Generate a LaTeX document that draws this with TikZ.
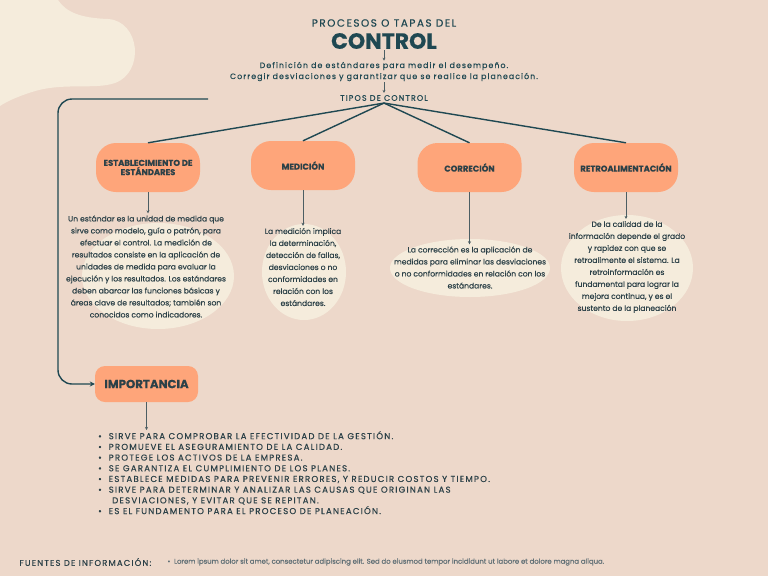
\documentclass[tikz,border=0pt]{standalone}
\usepackage{fontspec}
\setmainfont{Poppins}[FakeBold=0.5]
\newfontfamily\medio[FakeBold=0.35]{Poppins}
\newfontfamily\spaced[LetterSpace=14,FakeBold=0.35]{Poppins}
\usetikzlibrary{arrows.meta}

\definecolor{fondo}{HTML}{EDD8CA}
\definecolor{crema}{HTML}{F5ECDC}
\definecolor{durazno}{HTML}{FEA57A}
\definecolor{petroleo}{HTML}{1F4852}
\definecolor{tinta}{HTML}{2C4148}

\tikzset{
  tipo/.style={fill=durazno, rounded corners=20pt, minimum width=104pt, minimum height=49pt,
    font=\fontsize{8.4}{8.2}\selectfont\bfseries, text=tinta, align=center},
  desc/.style={font=\medio\fontsize{7.6}{12}\selectfont, text=tinta, align=center, inner sep=2pt},
  rama/.style={petroleo, line width=1.4pt},
  baja/.style={draw=tinta!85, line width=0.6pt, -{Stealth[length=3pt,width=3pt]}},
}

\begin{document}
\begin{tikzpicture}[x=1pt,y=-1pt]
\useasboundingbox (0,0) rectangle (768,576);
\fill[fondo] (0,0) rectangle (768,576);
% mancha de la esquina
\fill[crema] (0,0) -- (58,0) .. controls (66,12) and (80,18) .. (108,19)
  .. controls (140,21) and (145,72) .. (115,83)
  .. controls (95,90) and (62,82) .. (32,92)
  .. controls (16,97) and (6,102) .. (0,106) -- cycle;

% titulo
\node[font=\spaced\fontsize{10.5}{12}\selectfont, text=petroleo] (sup) at (384,23) {PROCESOS O TAPAS DEL};
\node[font=\fontsize{22}{24}\selectfont\bfseries, text=petroleo, inner sep=1pt] (ctl) at (384,41) {CONTROL};
\node[font=\spaced\fontsize{7.8}{11}\selectfont, text=petroleo, align=center, inner sep=1pt] (def) at (384,71.5)
  {Definición de estándares para medir el desempeño.\\Corregir desviaciones y garantizar que se realice la planeación.};
\node[font=\spaced\fontsize{8}{9}\selectfont, text=petroleo, inner sep=2pt] (tipos) at (384,98) {TIPOS DE CONTROL};
\draw[baja] (ctl.south) -- (def.north);
\draw[baja] (def.south) -- (tipos.north);

% tipos de control
\node[tipo] (est) at (148,167.5) {ESTABLECIMIENTO DE\\ESTÁNDARES};
\node[tipo] (med) at (303,165.5) {MEDICIÓN};
\node[tipo] (cor) at (469.5,167.5) {CORRECIÓN};
\node[tipo] (ret) at (626,167.5) {RETROALIMENTACIÓN};
\foreach \n in {est,med,cor,ret}{\draw[rama] (tipos.south) -- (\n.north);}

% manchas claras
\fill[crema] (158,276) ellipse [x radius=76, y radius=53];
\fill[crema] (304,272) ellipse [x radius=42, y radius=48];
\fill[crema] (470,268) ellipse [x radius=80, y radius=29];
\fill[crema] (627,268) ellipse [x radius=66, y radius=53];

\node[desc] (d1) at (146,266.5) {Un estándar es la unidad de medida que\\sirve como modelo, guía o patrón, para\\efectuar el control. La medición de\\resultados consiste en la aplicación de\\unidades de medida para evaluar la\\ejecución y los resultados. Los estándares\\deben abarcar las funciones básicas y\\áreas clave de resultados; también son\\conocidos como indicadores.};
\node[desc] (d2) at (303,267) {La medición implica\\la determinación,\\detección de fallas,\\desviaciones o no\\conformidades en\\relación con los\\estándares.};
\node[desc] (d3) at (470,267.5) {La corrección es la aplicación de\\medidas para eliminar las desviaciones\\o no conformidades en relación con los\\estándares.};
\node[desc] (d4) at (627,267) {De la calidad de la\\información depende el grado\\y rapidez con que se\\retroalimente el sistema. La\\retroinformación es\\fundamental para lograr la\\mejora continua, y es el\\sustento de la planeación};
\draw[baja] (est.south) -- (est.south |- d1.north);
\draw[baja] (med.south) -- (med.south |- d2.north);
\draw[baja] (cor.south) -- (cor.south |- d3.north);
\draw[baja] (ret.south) -- (ret.south |- d4.north);

% importancia
\node[fill=durazno, rounded corners=10pt, minimum width=103pt, minimum height=36pt,
  font=\fontsize{11.8}{12}\selectfont\bfseries, text=tinta] (imp) at (146.5,384) {IMPORTANCIA};
\coordinate (cabo) at (208,99);
\draw[rama, rounded corners=14pt, -{Stealth[length=5pt,width=5pt]}] (cabo) -- (58,99) -- (58,384) -- (imp.west);
\node[anchor=north west, align=left, inner sep=1pt, text=tinta,
  font=\spaced\fontsize{8.6}{10.7}\selectfont] (lista) at (97,430)
  {\textbullet\ \ SIRVE PARA COMPROBAR LA EFECTIVIDAD DE LA GESTIÓN.\\
   \textbullet\ \ PROMUEVE EL ASEGURAMIENTO DE LA CALIDAD.\\
   \textbullet\ \ PROTEGE LOS ACTIVOS DE LA EMPRESA.\\
   \textbullet\ \ SE GARANTIZA EL CUMPLIMIENTO DE LOS PLANES.\\
   \textbullet\ \ ESTABLECE MEDIDAS PARA PREVENIR ERRORES, Y REDUCIR COSTOS Y TIEMPO.\\
   \textbullet\ \ SIRVE PARA DETERMINAR Y ANALIZAR LAS CAUSAS QUE ORIGINAN LAS\\
   \phantom{\textbullet\ \ }\ DESVIACIONES, Y EVITAR QUE SE REPITAN.\\
   \textbullet\ \ ES EL FUNDAMENTO PARA EL PROCESO DE PLANEACIÓN.};
\draw[baja] (imp.south) -- (imp.south |- lista.north);

% fuentes
\node[anchor=west, font=\spaced\fontsize{8.4}{9}\selectfont, text=tinta] (fuentes) at (16,562) {FUENTES DE INFORMACIÓN:};
\node[anchor=west, font=\fontsize{6.9}{7}\selectfont, text=tinta!75] (lorem) at (164,562)
  {\textbullet\ \ Lorem ipsum dolor sit amet, consectetur adipiscing elit. Sed do eiusmod tempor incididunt ut labore et dolore magna aliqua.};
\end{tikzpicture}
\end{document}
